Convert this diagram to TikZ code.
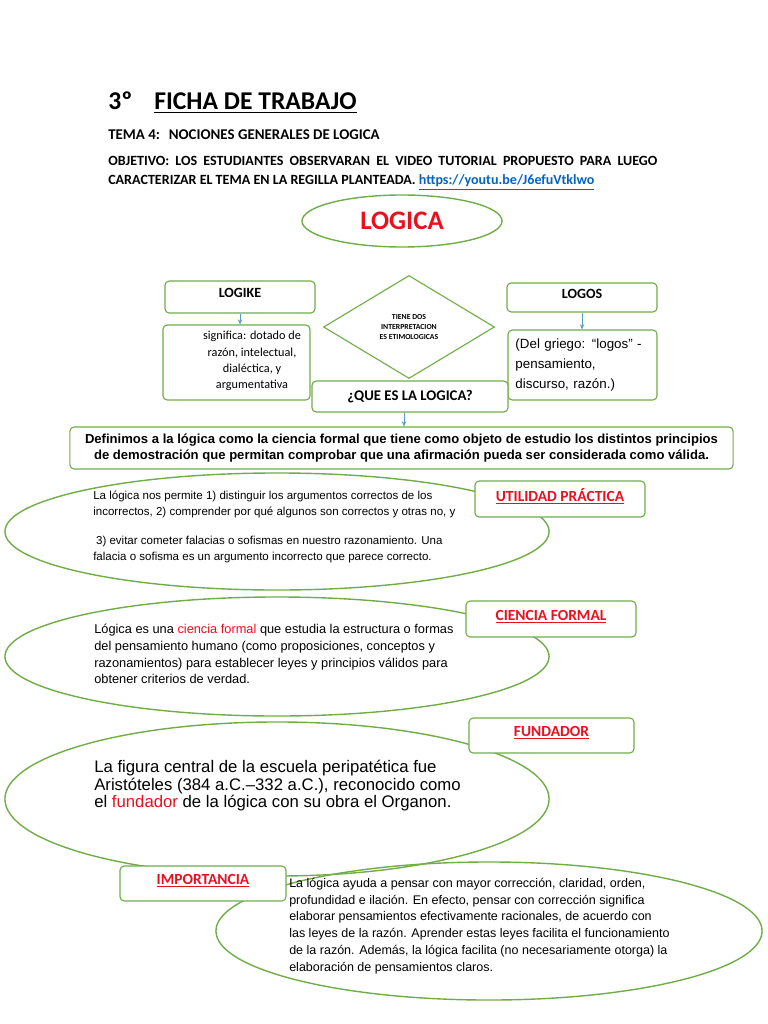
\documentclass[tikz,border=0pt]{standalone}
\usepackage{fontspec}
\setmainfont{Carlito}
\newfontfamily\arialfont{Liberation Sans}
\usetikzlibrary{shapes.geometric,arrows.meta,positioning}
\definecolor{lgGreen}{RGB}{112,173,71}
\definecolor{lgBlue}{RGB}{91,155,213}
\definecolor{lgRed}{RGB}{232,18,30}
\definecolor{lgLink}{RGB}{5,99,193}

\begin{document}
\begin{tikzpicture}[
  x=0.025cm, y=-0.025cm,
  box/.style={draw=lgGreen, line width=0.8pt, rounded corners=3pt, fill=white, inner sep=2pt, align=center},
  head/.style={box, font=\fontsize{10}{12}\selectfont\bfseries, text depth=0.2cm},
  tag/.style={box, font=\fontsize{11}{13}\selectfont\bfseries, text=lgRed, text depth=0.2cm, minimum height=0.9cm},
  oval/.style={draw=lgGreen, line width=1pt, ellipse, inner sep=0pt},
  body/.style={anchor=west, align=left, inner sep=0pt},
  arr/.style={lgBlue, line width=0.5pt, -{Stealth[length=1.3mm, width=1.1mm]}},
]
\useasboundingbox (0,0) rectangle (768,1024);
% header
\node[anchor=base west, inner sep=0pt, font=\fontsize{18.2}{22}\selectfont\bfseries] (title) at (108,110) {3º\hspace{0.55cm}\underline{FICHA DE TRABAJO}};
\node[anchor=base west, inner sep=0pt, font=\fontsize{10.6}{12}\selectfont\bfseries] (tema) at (108,140) {TEMA 4:\hspace{0.22cm}NOCIONES GENERALES DE LOGICA};
\node[anchor=base west, inner sep=0pt, font=\fontsize{10}{13.5}\selectfont\bfseries] (objetivo) at (108,166) {\parbox[t]{13.725cm}{OBJETIVO: LOS ESTUDIANTES OBSERVARAN EL VIDEO TUTORIAL PROPUESTO PARA LUEGO\linebreak CARACTERIZAR EL TEMA EN LA REGILLA PLANTEADA. {\color{lgLink}\underline{https://youtu.be/J6efuVtklwo}}}};
% top of the map
\node[oval, minimum width=5cm, minimum height=1.3cm, font=\fontsize{19}{22}\selectfont\bfseries, text=lgRed] (logica) at (402,221) {LOGICA};
\node[head, minimum width=3.75cm, minimum height=0.8cm] (logike) at (240,297) {LOGIKE};
\node[box, minimum width=3.675cm, minimum height=1.875cm] (significa) at (236.5,362.5) {};
\node[align=center, inner sep=0pt, font=\fontsize{8.7}{11.5}\selectfont] (sigText) at (252,361) {significa: dotado de\\razón, intelectual,\\dialéctica, y\\argumentativa};
\node[draw=lgGreen, line width=0.8pt, diamond, minimum width=4.275cm, minimum height=2.575cm, inner sep=0pt, align=center, font=\fontsize{5.5}{7}\selectfont\bfseries] (interp) at (409,327) {TIENE DOS\\INTERPRETACION\\ES ETIMOLOGICAS};
\node[head, minimum width=3.75cm, minimum height=0.725cm] (logos) at (582,297.5) {LOGOS};
\node[box, minimum width=3.725cm, minimum height=1.75cm, text width=3.35cm, align=left, font=\arialfont\fontsize{9.5}{14.5}\selectfont] (griego) at (582.5,365) {(Del griego: “logos” -\\pensamiento,\\discurso, razón.)};
\node[box, minimum width=4.9cm, minimum height=0.775cm, font=\fontsize{10.5}{12}\selectfont\bfseries] (quees) at (410,396.5) {¿QUE ES LA LOGICA?};
\node[box, minimum width=16.575cm, minimum height=1.05cm, font=\arialfont\fontsize{9.3}{11.5}\selectfont\bfseries] (definimos) at (401.5,448) {Definimos a la lógica como la ciencia formal que tiene como objeto de estudio los distintos principios\\de demostración que permitan comprobar que una afirmación pueda ser considerada como válida.};
\draw[arr] (logike.south) -- (logike.south |- significa.north);
\draw[arr] (logos.south) -- (logos.south |- griego.north);
\draw[arr] ([xshift=-0.15cm]quees.south) -- ([xshift=-0.15cm]quees.south |- definimos.north);
% utilidad practica
\node[oval, minimum width=13.6cm, minimum height=2.925cm] (utilOval) at (277,531.5) {};
\node[tag, minimum width=4.25cm] (utilTag) at (560,499) {\underline{UTILIDAD PRÁCTICA}};
\node[body, font=\arialfont\fontsize{8.2}{12}\selectfont] (utilText) at (93,527) {La lógica nos permite 1) distinguir los argumentos correctos de los\\incorrectos, 2) comprender por qué algunos son correctos y otras no, y\\[8pt]\hspace{2pt}3) evitar cometer falacias o sofismas en nuestro razonamiento. Una\\falacia o sofisma es un argumento incorrecto que parece correcto.};
% ciencia formal
\node[oval, minimum width=13.6cm, minimum height=2.975cm] (cienOval) at (277,656.5) {};
\node[tag, minimum width=4.25cm] (cienTag) at (551,619) {\underline{CIENCIA FORMAL}};
\node[body, font=\arialfont\fontsize{9.1}{11.9}\selectfont] (cienText) at (94,654) {Lógica es una {\color{lgRed}ciencia formal} que estudia la estructura o formas\\del pensamiento humano (como proposiciones, conceptos y\\razonamientos) para establecer leyes y principios válidos para\\obtener criterios de verdad.};
% fundador
\node[oval, minimum width=13.6cm, minimum height=3.85cm] (fundOval) at (277,799) {};
\node[tag, minimum width=4.125cm, minimum height=0.875cm] (fundTag) at (551.5,735.5) {\underline{FUNDADOR}};
\node[body, font=\arialfont\fontsize{11.9}{12.4}\selectfont] (fundText) at (94,786) {La figura central de la escuela peripatética fue\\Aristóteles (384 a.C.–332 a.C.), reconocido como\\el {\color{lgRed}fundador} de la lógica con su obra el Organon.};
% importancia
\node[oval, minimum width=13.65cm, minimum height=3.45cm] (impOval) at (489,931) {};
\node[tag, minimum width=4.15cm, minimum height=0.875cm] (impTag) at (203,883.5) {\underline{IMPORTANCIA}};
\node[body, font=\arialfont\fontsize{8.9}{12}\selectfont] (impText) at (289,926) {La lógica ayuda a pensar con mayor corrección, claridad, orden,\\profundidad e ilación. En efecto, pensar con corrección significa\\elaborar pensamientos efectivamente racionales, de acuerdo con\\las leyes de la razón. Aprender estas leyes facilita el funcionamiento\\de la razón. Además, la lógica facilita (no necesariamente otorga) la\\elaboración de pensamientos claros.};
\end{tikzpicture}
\end{document}
